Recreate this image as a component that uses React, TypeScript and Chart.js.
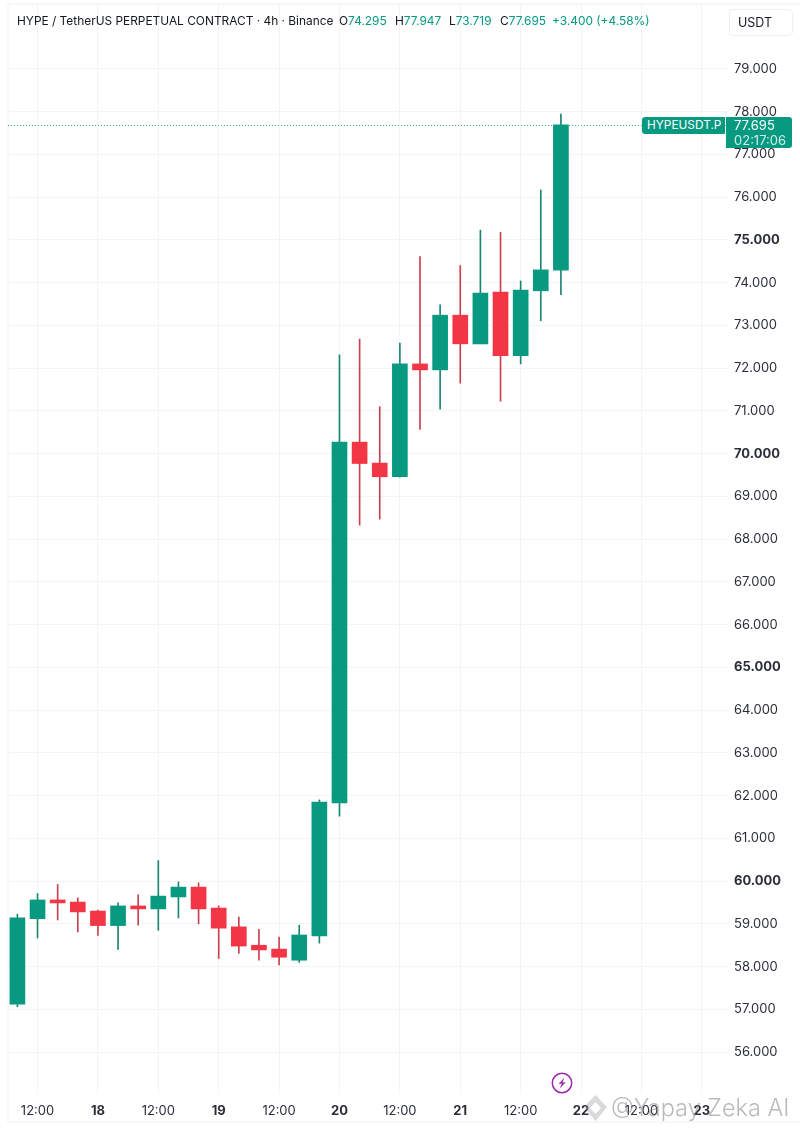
import React, { useEffect, useRef } from "react";
import { Chart, registerables } from "chart.js";

Chart.register(...registerables);

const opens = [57.12, 59.12, 59.56, 59.51, 59.30, 58.96, 59.42, 59.35, 59.63, 59.86, 59.37, 58.93, 58.50, 58.41, 58.15, 58.72, 61.83, 70.27, 69.78, 69.46, 72.10, 71.96, 73.24, 72.57, 73.78, 72.29, 73.81, 74.295];
const closes = [59.14, 59.56, 59.49, 59.28, 58.96, 59.42, 59.35, 59.65, 59.86, 59.35, 58.90, 58.48, 58.39, 58.22, 58.74, 61.85, 70.27, 69.77, 69.46, 72.10, 71.96, 73.24, 72.57, 73.76, 72.29, 73.83, 74.30, 77.695];
const highs = [59.23, 59.71, 59.92, 59.61, 59.32, 59.49, 59.68, 60.48, 59.98, 59.96, 59.42, 59.16, 58.87, 58.69, 58.97, 61.90, 72.31, 72.68, 71.10, 72.59, 74.61, 73.48, 74.40, 75.23, 75.18, 74.04, 76.17, 77.947];
const lows = [57.06, 58.67, 59.09, 58.81, 58.73, 58.40, 58.97, 58.85, 59.14, 59.00, 58.19, 58.31, 58.15, 58.04, 58.10, 58.55, 61.52, 68.33, 68.47, 69.45, 70.57, 71.04, 71.65, 72.57, 71.23, 72.10, 73.11, 73.719];

const timePositions = [1, 4, 7, 10, 13, 16, 19, 22, 25, 28, 31, 34];
const timeLabels = ["12:00", "18", "12:00", "19", "12:00", "20", "12:00", "21", "12:00", "22", "12:00", "23"];
const priceTicks = [56, 57, 58, 59, 60, 61, 62, 63, 64, 65, 66, 67, 68, 69, 70, 71, 72, 73, 74, 75, 76, 77, 78, 79];
const boldPrices = [60, 65, 70, 75];

const lastPrice = 77.695;
const UP = "#089981";
const DOWN = "#f23645";
const UP_WICK = "#1b8574";
const DOWN_WICK = "#c9414f";
const FONT = "Inter, 'Noto Sans', sans-serif";

const header = "HYPE / TetherUS PERPETUAL CONTRACT · 4h · Binance";
const ohlcKeys = ["O", "H", "L", "C"];
const ohlcValues = ["74.295", "77.947", "73.719", "77.695"];
const ohlcLeft = [339, 395, 449, 500];
const change = "+3.400 (+4.58%)";

const abs = (o: React.CSSProperties): React.CSSProperties => ({ position: "absolute", whiteSpace: "nowrap", ...o });

export default function App() {
  const ref = useRef<HTMLCanvasElement>(null);
  useEffect(() => {
    document.body.style.margin = "0";
    const idx = opens.map((_, i) => i);
    const up = (c: any) => closes[c.dataIndex] >= opens[c.dataIndex];
    const priceLine = {
      id: "priceLine",
      afterDatasetsDraw(chart: any) {
        const { ctx, chartArea, scales } = chart;
        const y = Math.round(scales.y.getPixelForValue(lastPrice)) + 0.5;
        ctx.save();
        ctx.strokeStyle = "rgba(8,153,129,0.75)";
        ctx.lineWidth = 1;
        ctx.setLineDash([1, 2]);
        ctx.beginPath();
        ctx.moveTo(chartArea.left, y);
        ctx.lineTo(chartArea.right, y);
        ctx.stroke();
        ctx.restore();
      },
    };
    const frame = {
      id: "frame",
      beforeDraw(chart: any) {
        const { ctx, chartArea } = chart;
        ctx.save();
        ctx.strokeStyle = "#f4f5f6";
        ctx.lineWidth = 1.5;
        ctx.beginPath();
        ctx.moveTo(chartArea.left, 4);
        ctx.lineTo(chart.width, 4);
        ctx.moveTo(chartArea.left, 4);
        ctx.lineTo(chartArea.left, 1122);
        ctx.lineTo(chart.width, 1122);
        ctx.stroke();
        ctx.restore();
      },
    };
    const chart = new Chart(ref.current as HTMLCanvasElement, {
      type: "bar",
      data: {
        datasets: [
          {
            label: "wick",
            data: idx.map((i) => ({ x: i, y: [lows[i], highs[i]] })) as any,
            backgroundColor: (c: any) => (up(c) ? UP_WICK : DOWN_WICK),
            barThickness: 1,
            grouped: false,
            order: 2,
          } as any,
          {
            label: "body",
            data: idx.map((i) => ({ x: i, y: [opens[i], closes[i]] })) as any,
            backgroundColor: (c: any) => (up(c) ? UP : DOWN),
            barThickness: 15,
            grouped: false,
            order: 1,
          } as any,
        ],
      },
      options: {
        animation: false,
        responsive: false,
        layout: { padding: { left: 8, right: 0, top: 4, bottom: 11 } },
        plugins: { legend: { display: false }, tooltip: { enabled: false } },
        scales: {
          x: {
            type: "linear",
            min: -0.467,
            max: 35.3,
            offset: false,
            grid: { color: "#f3f4f6", drawTicks: false, lineWidth: 1, offset: false },
            border: { display: false },
            afterBuildTicks(s: any) {
              s.ticks = timePositions.map((value) => ({ value }));
            },
            afterFit(s: any) {
              s.height = 28;
              s.paddingLeft = 0;
              s.paddingRight = 0;
            },
            ticks: {
              autoSkip: false,
              maxRotation: 0,
              padding: 9,
              color: "#2a2e39",
              font: (c: any) => {
                const l = timeLabels[timePositions.indexOf(c.tick?.value)];
                return { family: FONT, size: 13, weight: l && l.length < 3 ? 700 : 400 };
              },
              callback: (v: any) => timeLabels[timePositions.indexOf(v)] ?? "",
            },
          },
          y: {
            type: "linear",
            position: "right",
            min: 55.02,
            max: 80.52,
            grid: { color: "#f3f4f6", drawTicks: false, lineWidth: 1 },
            border: { display: false },
            afterBuildTicks(s: any) {
              s.ticks = priceTicks.map((value) => ({ value }));
            },
            afterFit(s: any) {
              s.width = 72;
              s.paddingTop = 0;
              s.paddingBottom = 0;
            },
            ticks: {
              autoSkip: false,
              padding: 6,
              color: "#2a2e39",
              font: (c: any) => ({
                family: FONT,
                size: 13,
                weight: boldPrices.includes(c.tick?.value) ? 700 : 400,
              }),
              callback: (v: any) => Number(v).toFixed(3),
            },
          },
        },
      },
      plugins: [frame, priceLine],
    } as any);
    return () => chart.destroy();
  }, []);

  const headStyle = { top: 12, fontSize: 11.9, lineHeight: "17px" };
  return (
    <div style={{ position: "relative", width: 800, height: 1133, overflow: "hidden", background: "#fff", fontFamily: FONT, color: "#131722" }}>
      <canvas ref={ref} width={800} height={1133} style={{ display: "block", width: 800, height: 1133 }} />
      <div style={abs({ left: 17, ...headStyle })}>{header}</div>
      {ohlcKeys.map((k, i) => (
        <div key={k} style={abs({ left: ohlcLeft[i], ...headStyle })}>
          {k}
          <span style={{ color: UP }}>{ohlcValues[i]}</span>
        </div>
      ))}
      <div style={abs({ left: 552, color: UP, ...headStyle })}>{change}</div>
      <div style={abs({ left: 729, top: 9, width: 64, height: 27, boxSizing: "border-box", border: "1px solid #eef0f3", borderRadius: 4, background: "#fff", fontSize: 12.5, lineHeight: "25px", paddingLeft: 8 })}>USDT</div>
      <div style={abs({ left: 642, top: 117, width: 83, height: 17, background: UP, color: "#fff", borderRadius: "3px 0 0 3px", fontSize: 11.85, lineHeight: "17px", paddingLeft: 5, boxSizing: "border-box" })}>HYPEUSDT.P</div>
      <div style={abs({ left: 726, top: 117, width: 66, height: 31, background: UP, color: "#fff", borderRadius: "0 3px 3px 0", fontSize: 13, lineHeight: "15px", paddingLeft: 8, paddingTop: 1, boxSizing: "border-box" })}>
        77.695
        <br />
        <span style={{ color: "#cfeee8", fontSize: 13 }}>02:17:06</span>
      </div>
      <svg style={abs({ left: 551, top: 1072 })} width={22} height={22} viewBox="0 0 22 22">
        <circle cx="11" cy="11" r="9.7" fill="#fff" stroke="#9c27b0" strokeWidth="1.5" />
        <path d="M13.5 5.5 L7.5 12 L10.8 11.4 L8.8 16.5 L14.8 10 L11.4 10.6 Z" fill="#9c27b0" />
      </svg>
      <svg style={abs({ left: 583, top: 1094 })} width={25} height={29} viewBox="0 0 25 29">
        <path d="M12.5 1 L24 13 L12.5 27 L1 13 Z M12.5 8 L7 14 L12.5 20 L18 14 Z" fill="rgba(150,150,150,0.35)" fillRule="evenodd" />
      </svg>
      <div style={abs({ left: 611, top: 1094, fontSize: 23.5, lineHeight: "28px", fontWeight: 300, color: "rgba(130,130,130,0.55)" })}>@Yapay Zeka AI</div>
    </div>
  );
}
